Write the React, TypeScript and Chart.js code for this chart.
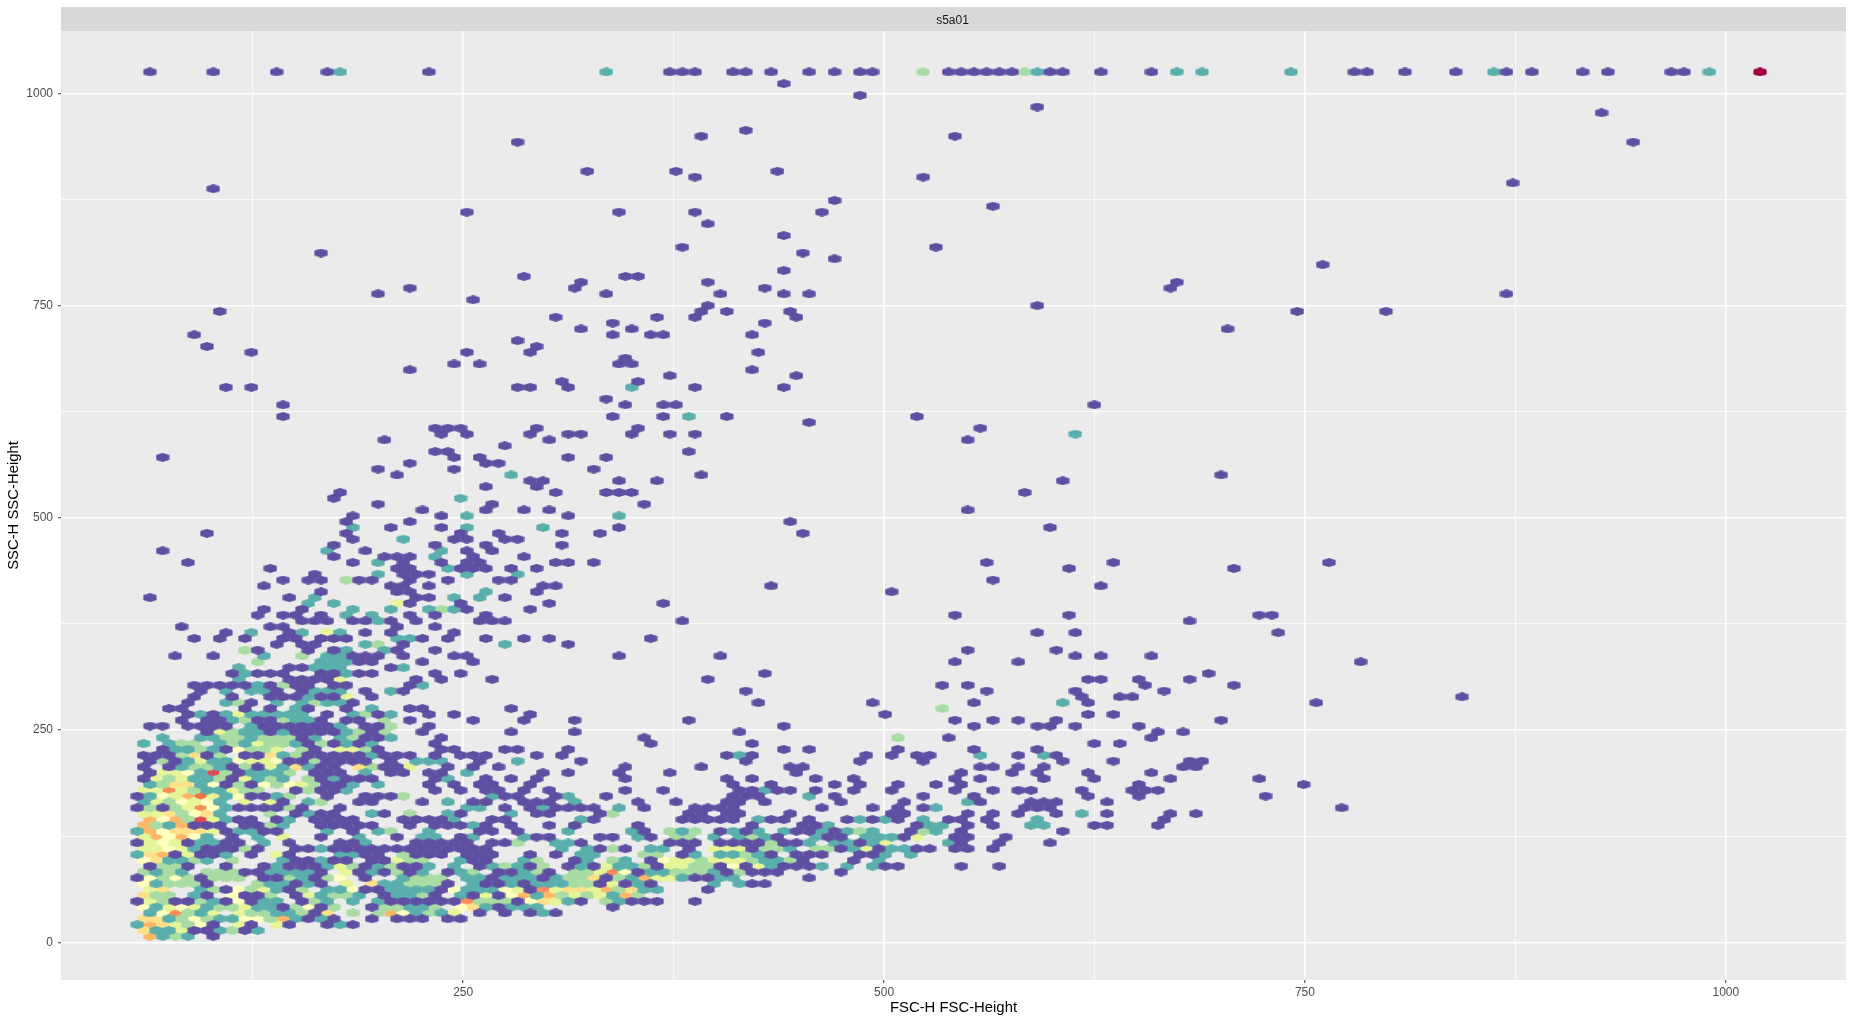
import React, { useEffect, useRef } from 'react';
import Chart from 'chart.js/auto';

// hexagon grid (stat_binhex style)
const FSC_ORIGIN = 56.37;
const FSC_STEP = 7.531;
const SSC_ORIGIN = 7.07;
const SSC_STEP = 6.88;

// fill colour per count level, low to high
const levelColors = ['#5E4FA2', '#5AAFAC', '#A9DCA3', '#E6F598', '#FFFFBF', '#FEE08B', '#FDB768', '#FB8D59', '#F46D43', '#DC4A53', '#9E0142'];
const levelKeys = '123456789AB';

const xGridValues = [125, 250, 375, 500, 625, 750, 875, 1000];
const yGridValues = [0, 125, 250, 375, 500, 625, 750, 875, 1000];

// bins per row from the bottom: "column:levels", a dot is an empty bin
const rowBins: string[] = [
  '1:7232.1',
  '0:6224112312',
  '0:2764351.41.41..121',
  '0:6623532255372121..1.111.11',
  '1:258324.43322316.3.3752324.1.1.121',
  '0:5245423342213513..133223.5621222.....1',
  '0:143113215122.132.2.21111118333156421.32111..1',
  '0:633.21.5113.142332.12231.214157273434273',
  '1:46..231534213.225112222152225418466473622 45:1',
  '0:523331...322121.4.6223331.211212223314121 45:2 47:2 48:11',
  '0:153531333.1132135.1..2333.2212221233613274421122 53:1',
  '0:3232.3331122221.4121312.123.11231.33485122333213 48:111 55:1',
  '1:1331..1..12111243123112.2.123213.12142231443315 48:1421112.2.211....1..1',
  '0:562232.3...211211.11433..211..23..12.32.15443444 48:32231...1.2',
  '0:26714112.1.41...2211.3111.111..1.1.22...33.12.22 48:321.111..112.2',
  '0:4454211131..1121111111111111.....2.2131.22.1.444 48:1332.3312412211.11.1',
  '0:145412211.2.1...112...11111.113..221......111.11 48:113112.22124....21..1...1',
  '0:475752.1.2.4..1..2..1.22.12...211...11.21.33.2.2 48:321..211.22214..11..1',
  '0:275666412211...2.1.23..2...11.1...2....21.323.12 48:12.21121232..132.1.......1',
  '0:7327111.1132..11111..1.11121.1..1.1....1 48:1...112......122.1.1..22...11...1',
  '1:7573A4211.12.1111...11112..11.....21......11111 49:211.1..12121.2.11.1...2.........1',
  '0:4463562...3.1211..21.3..21...2.11...13.....11.11 51:1.......11....1.1.1..1.2.1....1.1',
  '0:13134852111131..1.........22.1.121111.2.1...1111 54:1...1.1.12 70:111 95:1',
  '0:2435452.4.41.23..11...1.2.11..111.2....1..1...11 49:1.....1....1....21 70:111 76:1',
  '0:1254794251123..1..1113......211..12..1.........1 48:11...2.1......1...1........1 79:1 89:1',
  '0:4484322433..13112......1.1.11.1.1.....1..1.....1 47:11211.1..1..1....1..1.11...1...111',
  '1:23662513153543112.2...1.1.11..1...............1 47:1..1....1.1..1..1.1 79:1 92:1',
  '0:143422314232.312111....12..1.1.1......1.......1 46:1.1....1..1.......1.1....1...1.....1 88:1',
  '1:14452A312223.111.2.11.11.2.....1.1...1...1 52:1............1.....1...1....1 69:1',
  '0:1.12332131426211.63114..1.1.1.........1.....1 51:11.............11.1.1..........11 69:1',
  '1:131242254451131111.1.222..1..2....1 48:1........1....1..........1...1 83:11',
  '0:1113613.11623111112111.1.111...1.1............12 46:121........1.1.11...2..1.21',
  '2:1223215334.31.4431....11...11...1 51:1.1......1.....1....1',
  '0:2.233.2324332131212....1................1 48:1 75:1.1',
  '2:2..2233233312.23112...1...............1 60:3...1 80:1',
  '5:143221211112313..1......1....1............1 80:1.1',
  '1:11.1111.21111112.113..1 51:1 66:1 71:11 74:1 79:1',
  '3:1.1123113221.11.3.1....1...1...1........1 64:1 67:1 69:1 72:1 85:1',
  '4:1212422222.1.2312..1.1.....1 59:1 75:1 77:1',
  '2:11....1.1.21..1.2..11......1 63:3',
  '4:1..231.2.23221 49:1 58:1 66:1 73:2 75:1 93:1',
  '4:1..1..1112114.1 74:1 77:11',
  '5:1.2.221.1222.1.21 48:1 67:1 74:1 81:1',
  '4:1111121311.11....12 63:1 65:1 79:1 86:1',
  '8:2...11114.....1.1...1 45:1 75:11 79:1 83:1',
  '7:12111..11211....1.1 49:1 84:1',
  '8:2...11222...12',
  '9:3....22211...1...1 64:1 69:1 96:1',
  '3:1..1...2..3.22111.1...11 38:1 46:1 74:1 76:1 80:1',
  '8:31...1.12..21..1 65:1 72:1',
  '11:1.11...23.1.......2....1',
  '4:1.1.1..11.111...221.1..1..1.1 40:1',
  '7:1.2..12.42.1.1....1 71:1 74:1 90:1',
  '3:1......11........1..1',
  '13:111.1121.1....111 43:1 83:1',
  '9:1.11.1.2.2..1.1...1 64:1 73:1',
  '10:1..1...2..2..2321....1',
  '13:2.2....41...1......1 41:1',
  '1:1..........1.2.......11.2.2.1',
  '14:1.....11.....2...1 59:1',
  '10:1.........11.1........11 50:1 76:1',
  '11:1.11.311..1..1...11 67:1',
  '14:1....2.111..2...2',
  '10:1.........11..2111.1.1 73:1',
  '4:1............1.2.1..1.11.....11.1 67:1',
  '15:1...111.2..1...1',
  '2:1............2..1.....2.1.1',
  '15:1.......1...1.....1',
  '17:1...2...11..11',
  '5:1..........1........1..1....1..1 52:1',
  '17:2..1...1.2.....2 38:1 72:1',
  '16:1....1 51:1',
  '17:1......1.2.......1 38:2',
  '22:1....1..1.1 65:1',
  '19:1........1 40:1',
  '15:1.........2',
  '16:1................1 37:111 70:1',
  '27:1...1',
  '31:11 38:1 41:1 73:1',
  '20:1 29:2 44:1',
  '19:1 25:1 36:1',
  '21:1 27:11',
  '2:1 25:1 27:1 34:1 37:1',
  '23:11 43:1',
  '29:1',
  '19:1 32:1 65:1',
  '24:1 26:1 31:1 34:11 39:1 42:1 44:1 74:2',
  '23:111 31:1 39:1 66:1',
  '53:1',
  '11:1 37:1 41:1 43:2 46:1 61:1',
  '',
  '11:1 38:1 41:11 75:1',
  '37:1',
  '',
  '7:1 9:1 30:11 34:1 39:2',
  '33:1',
  '',
  '21:1',
  '25:1 27:1 38:11',
  '38:1',
  '9:1 26:1 31:1',
  '5:1 31:1',
  '30:1',
  '4:1 37:1',
  '35:1 39:1',
  '37:1',
  '33:1',
  '6:1',
  '',
  '26:1',
  '19:1 37:1',
  '21:1 34:1',
  '35:1',
  '30:1 38:1',
  '',
  '',
  '',
  '14:1',
];

// scattered bins higher up, read as raw values
const upperFsc = [440, 485, 591, 926, 946, 542, 418, 391, 282, 524, 377, 388, 437, 324, 101, 874, 388, 343, 252, 470, 463, 565, 395, 381, 440, 452, 532, 440, 428, 395, 470, 760, 671, 674, 405, 440, 456, 591, 394, 390, 443, 447, 798, 746, 701, 384, 408, 429, 422, 422, 426, 447, 439, 355, 352, 363, 359, 369, 345, 347, 372, 389, 354, 701, 708, 722, 730, 765, 844, 636, 871];
const upperSsc = [1011, 997, 983, 976, 943, 950, 957, 950, 943, 901, 908, 901, 908, 908, 887, 894, 859, 859, 859, 873, 859, 866, 847, 819, 833, 813, 819, 791, 772, 777, 805, 798, 770, 777, 763, 763, 763, 749, 751, 744, 742, 735, 742, 742, 723, 735, 742, 730, 714, 674, 696, 667, 654, 784, 724, 733, 716, 714, 688, 684, 667, 657, 661, 550, 440, 386, 386, 447, 288, 447, 763];
const upperTealFsc = [350];
const upperTealSsc = [655];

// the saturated row at the top of the detector range
const ceilingSsc = 1025;
const ceilingFsc = [63, 101, 139, 169, 229, 372, 377, 383, 388, 409, 414, 419, 433, 453, 458, 470, 485, 490, 495, 536, 541, 546, 554, 559, 564, 569, 574, 578, 598, 602, 607, 629, 659, 779, 784, 788, 810, 840, 870, 885, 915, 930, 968, 973, 978];
const ceilingTealFsc = [177, 335, 591, 674, 689, 742, 862, 990];
const ceilingGreenFsc = [523, 584];
const ceilingPeakFsc = [1021];

type Bin = { x: number; y: number };

function buildBins(): Map<number, Bin>[] {
  const bins: Map<number, Bin>[] = levelColors.map(() => new Map());
  const put = (col: number, row: number, level: number) => {
    const odd = row % 2 === 1 ? 0.5 : 0;
    bins[level].set(row * 1000 + col, {
      x: FSC_ORIGIN + (col + odd) * FSC_STEP,
      y: SSC_ORIGIN + row * SSC_STEP,
    });
  };
  const snap = (fsc: number, ssc: number, level: number) => {
    const row = Math.round((ssc - SSC_ORIGIN) / SSC_STEP);
    const odd = row % 2 === 1 ? 0.5 : 0;
    put(Math.round((fsc - FSC_ORIGIN) / FSC_STEP - odd), row, level);
  };

  rowBins.forEach((line, row) => {
    if (!line) return;
    line.split(' ').forEach(token => {
      const [start, levels] = token.split(':');
      [...levels].forEach((ch, i) => {
        if (ch !== '.') put(Number(start) + i, row, levelKeys.indexOf(ch));
      });
    });
  });
  upperFsc.forEach((fsc, i) => snap(fsc, upperSsc[i], 0));
  upperTealFsc.forEach((fsc, i) => snap(fsc, upperTealSsc[i], 1));
  ceilingFsc.forEach(fsc => snap(fsc, ceilingSsc, 0));
  ceilingTealFsc.forEach(fsc => snap(fsc, ceilingSsc, 1));
  ceilingGreenFsc.forEach(fsc => snap(fsc, ceilingSsc, 2));
  ceilingPeakFsc.forEach(fsc => snap(fsc, ceilingSsc, 10));
  return bins;
}

function hexagon(color: string): HTMLCanvasElement {
  const c = document.createElement('canvas');
  c.width = 14;
  c.height = 9;
  const g = c.getContext('2d');
  if (g) {
    g.fillStyle = color;
    g.beginPath();
    g.moveTo(7, 0);
    g.lineTo(13.6, 2);
    g.lineTo(13.6, 7);
    g.lineTo(7, 9);
    g.lineTo(0.4, 7);
    g.lineTo(0.4, 2);
    g.closePath();
    g.fill();
  }
  return c;
}

const panelAndStrip = {
  id: 'panelAndStrip',
  beforeDraw(chart: any) {
    const { ctx, chartArea } = chart;
    const { left, top, width, height } = chartArea;
    ctx.save();
    ctx.fillStyle = '#EBEBEB';
    ctx.fillRect(left, top, width, height);
    ctx.fillStyle = '#D9D9D9';
    ctx.fillRect(left, 7, width, top - 7);
    ctx.fillStyle = '#1A1A1A';
    ctx.font = '12px "Liberation Sans"';
    ctx.textAlign = 'center';
    ctx.textBaseline = 'middle';
    ctx.fillText('s5a01', left + width / 2 - 1, 20.5);
    ctx.restore();
  },
};

const isMajor = (value: number) => value % 250 === 0;

const axisBase = {
  type: 'linear' as const,
  border: { display: false },
  grid: {
    color: '#FFFFFF',
    lineWidth: (c: any) => (isMajor(c.tick.value) ? 1.5 : 0.75),
    tickColor: (c: any) => (isMajor(c.tick.value) ? '#333333' : 'rgba(0,0,0,0)'),
    tickWidth: 1,
    tickLength: 3,
  },
};

const App: React.FC = () => {
  const chartRef = useRef<HTMLCanvasElement | null>(null);

  useEffect(() => {
    if (!chartRef.current) return;
    const bins = buildBins();
    const chart = new Chart(chartRef.current, {
      type: 'scatter',
      data: {
        datasets: levelColors.map((color, i) => ({
          label: `level ${i + 1}`,
          data: [...bins[i].values()],
          pointStyle: hexagon(color) as any,
          clip: false as any,
        })),
      },
      options: {
        animation: false,
        responsive: false,
        layout: { autoPadding: false, padding: { top: 31, right: 7, left: 0, bottom: 0 } },
        plugins: { legend: { display: false }, tooltip: { enabled: false } },
        scales: {
          x: {
            ...axisBase,
            min: 11.1,
            max: 1071.4,
            afterBuildTicks: (axis: any) => {
              axis.ticks = xGridValues.map(value => ({ value }));
            },
            afterFit: (axis: any) => {
              axis.height = 45;
            },
            ticks: {
              autoSkip: false,
              maxRotation: 0,
              padding: 2,
              color: '#4D4D4D',
              font: { family: 'Liberation Sans', size: 12 },
              callback: (v: any) => (isMajor(Number(v)) ? String(v) : ''),
            },
            title: {
              display: true,
              text: 'FSC-H FSC-Height',
              color: '#000000',
              font: { family: 'Liberation Sans', size: 14.85 },
              padding: { top: 0, bottom: 8 },
            },
          },
          y: {
            ...axisBase,
            min: -44.4,
            max: 1073.6,
            afterBuildTicks: (axis: any) => {
              axis.ticks = yGridValues.map(value => ({ value }));
            },
            afterFit: (axis: any) => {
              axis.width = 61;
            },
            ticks: {
              autoSkip: false,
              padding: 5,
              color: '#4D4D4D',
              font: { family: 'Liberation Sans', size: 12 },
              callback: (v: any) => (isMajor(Number(v)) ? String(v) : ''),
            },
            title: {
              display: true,
              text: 'SSC-H SSC-Height',
              color: '#000000',
              font: { family: 'Liberation Sans', size: 14.85 },
              padding: { top: 5, bottom: 0 },
            },
          },
        },
      },
      plugins: [panelAndStrip],
    });
    return () => chart.destroy();
  }, []);

  return (
    <div style={{ position: 'absolute', left: 0, top: 0, width: 1853, height: 1025, background: '#FFFFFF' }}>
      <canvas ref={chartRef} width={1853} height={1025} style={{ display: 'block' }} />
    </div>
  );
};

export default App;
